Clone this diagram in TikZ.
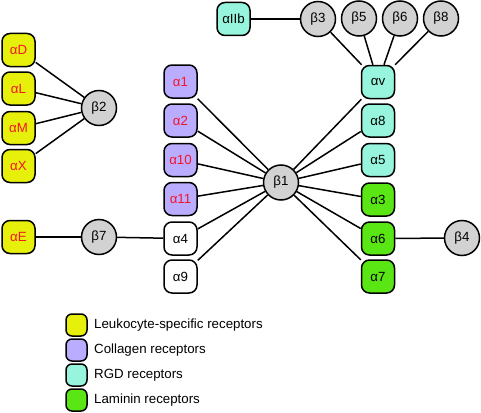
\documentclass[tikz,border=0pt]{standalone}
\usepackage{fontspec}
\setmainfont{Liberation Sans}
\definecolor{cyellow}{RGB}{230,240,10}
\definecolor{cpurple}{RGB}{186,172,255}
\definecolor{caqua}{RGB}{150,245,220}
\definecolor{cgreen}{RGB}{90,230,20}
\definecolor{cgray}{RGB}{210,210,210}
\definecolor{cred}{RGB}{245,20,40}
\begin{document}
\begin{tikzpicture}[x=1pt,y=-1pt,
  box/.style={draw=black, line width=1.5pt, rounded corners=8pt, minimum width=33pt, minimum height=33pt, inner sep=0pt, font=\fontsize{13.3}{15}\selectfont},
  circ/.style={circle, draw=black, fill=cgray, line width=1.5pt, minimum size=35pt, inner sep=0pt, font=\fontsize{13.3}{15}\selectfont},
  leuk/.style={box, fill=cyellow, text=cred},
  coll/.style={box, fill=cpurple, text=cred},
  rgd/.style={box, fill=caqua},
  lam/.style={box, fill=cgreen},
  plain/.style={box, fill=white},
  link/.style={line width=1.5pt},
  lbox/.style={draw=black, line width=1.5pt, rounded corners=6pt, minimum width=21pt, minimum height=22pt, inner sep=0pt},
  ltext/.style={anchor=west, inner sep=0pt, font=\fontsize{13.3}{15}\selectfont}]
\useasboundingbox (0,0) rectangle (481,412);
% left yellow column
\node[leuk] (aD) at (18.5,50) {αD};
\node[leuk] (aL) at (18.5,88.5) {αL};
\node[leuk] (aM) at (18.5,128) {αM};
\node[leuk] (aX) at (18.5,166) {αX};
\node[circ] (b2) at (99,108) {β2};
\node[leuk] (aE) at (18.5,237) {αE};
\node[circ] (b7) at (99,237) {β7};
% beta1 left column
\node[coll] (a1) at (180.5,81.5) {α1};
\node[coll] (a2) at (180.5,120.5) {α2};
\node[coll] (a10) at (180.5,160) {α10};
\node[coll] (a11) at (180.5,199) {α11};
\node[plain] (a4) at (180.5,238.5) {α4};
\node[plain] (a9) at (180.5,276.5) {α9};
\node[circ] (b1) at (281,182.5) {β1};
% top row
\node[rgd] (aIIb) at (233.5,19) {αIIb};
\node[circ] (b3) at (318,19) {β3};
\node[circ] (b5) at (359,18.5) {β5};
\node[circ] (b6) at (400,18.5) {β6};
\node[circ] (b8) at (441,18.5) {β8};
% right column
\node[rgd] (av) at (378,82) {αv};
\node[rgd] (a8) at (378,120.5) {α8};
\node[rgd] (a5) at (378,160) {α5};
\node[lam] (a3) at (378,199.5) {α3};
\node[lam] (a6) at (378,238.5) {α6};
\node[lam] (a7) at (378,276.5) {α7};
\node[circ] (b4) at (462,238) {β4};
% edges
\foreach \n in {aD,aL,aM,aX} \draw[link] (b2) -- (\n);
\draw[link] (aE) -- (b7);
\draw[link] (b7) -- (a4);
\foreach \n in {a1,a2,a10,a11,a4,a9,av,a8,a5,a3,a6,a7} \draw[link] (b1) -- (\n);
\draw[link] (aIIb) -- (b3);
\foreach \n in {b3,b5,b6,b8} \draw[link] (\n) -- (av);
\draw[link] (a6) -- (b4);
% legend
\node[lbox, fill=cyellow] (l1) at (76.5,325) {};
\node[lbox, fill=cpurple] (l2) at (76.5,350) {};
\node[lbox, fill=caqua] (l3) at (76.5,375) {};
\node[lbox, fill=cgreen] (l4) at (76.5,400) {};
\node[ltext] (t1) at (94,325) {Leukocyte-specific receptors};
\node[ltext] (t2) at (94,350) {Collagen receptors};
\node[ltext] (t3) at (94,375) {RGD receptors};
\node[ltext] (t4) at (94,400) {Laminin receptors};
\end{tikzpicture}
\end{document}
